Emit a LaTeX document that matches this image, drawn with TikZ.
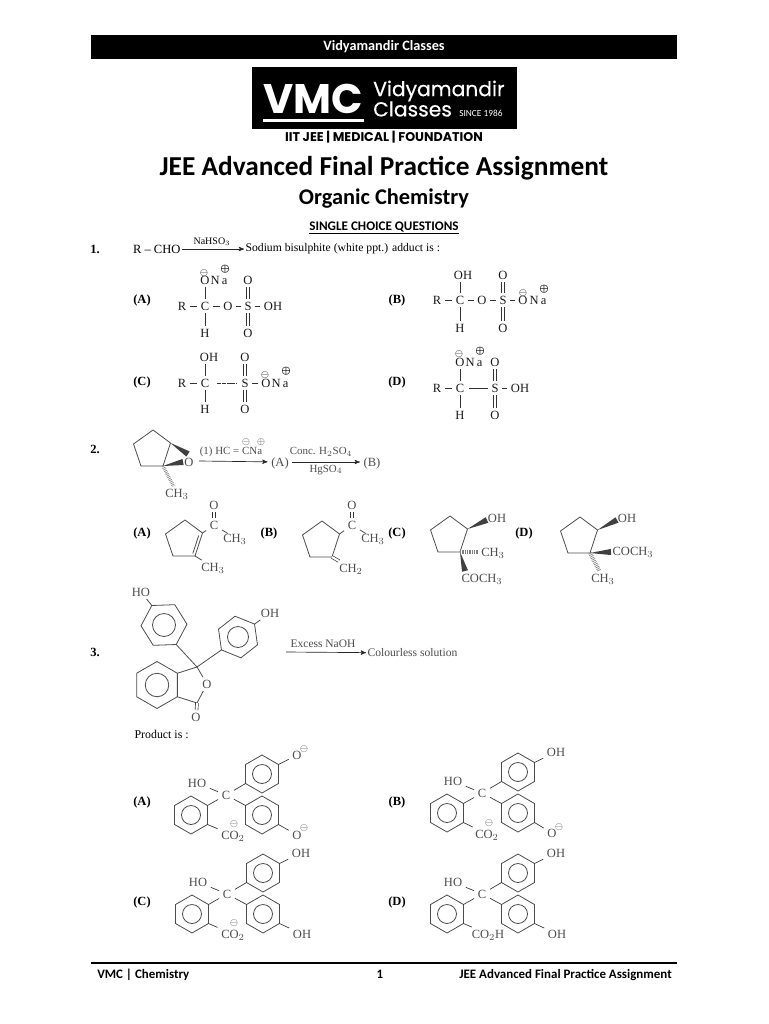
\documentclass[tikz,border=0pt]{standalone}
\usepackage{fontspec}
\setmainfont{Liberation Serif}
\newfontfamily\headfont{Carlito}
\newfontfamily\logofont{Poppins}
\newfontfamily\logomed[FakeBold=.4]{Poppins}
\usetikzlibrary{arrows,calc}

\newcommand{\benzring}[5]{%
  \coordinate (#1c) at (#2,#3);
  \foreach \k in {1,...,6} {
    \pgfmathsetmacro{\ang}{#5+60*(\k-1)}
    \coordinate (#1-\k) at ($(#1c)+(\ang:#4)$);
  }
  \draw[ringline] (#1-1) -- (#1-2) -- (#1-3) -- (#1-4) -- (#1-5) -- (#1-6) -- cycle;
  \draw[ringline] (#1c) circle ({#4*.5});
}
\newcommand{\pentring}[3]{%
  \coordinate (#1-1) at (#2-19.5,#3+14); \coordinate (#1-2) at (#2,#3);
  \coordinate (#1-3) at (#2+17.5,#3+13); \coordinate (#1-4) at (#2+10,#3+36);
  \coordinate (#1-5) at (#2-12,#3+36);
  \draw[ringline] (#1-1) -- (#1-2) -- (#1-3) -- (#1-4) -- (#1-5) -- cycle;
}
\newcommand{\wedgebond}[2]{\fill[black!75] (#1) -- ($(#2)!2.3pt!90:(#1)$) -- ($(#2)!2.3pt!-90:(#1)$) -- cycle;}
\newcommand{\triaryl}[3]{%
  \node[chemg] (#1C) at (#2,#3) {C};
  \node[chemg] (#1HO) at (#2-29,#3-12) {HO};
  \benzring{#1a}{#2-35}{#3+20}{19}{30}
  \benzring{#1b}{#2+36}{#3-21}{19}{30}
  \benzring{#1d}{#2+36}{#3+20}{19}{30}
  \draw[bond] (#1HO) -- (#1C); \draw[bond] (#1a-6) -- (#1C);
  \draw[bond] (#1b-3) -- (#1C); \draw[bond] (#1d-4) -- (#1C);
}
\newcommand{\pluscharge}{{\boldmath$\oplus$}}

\begin{document}
\begin{tikzpicture}[x=.75pt,y=-.75pt,>=stealth',
    chem/.style={font=\fontsize{9.4}{11}\selectfont,text=black!90,inner xsep=2.6pt,inner ysep=1.8pt,text height=6.4pt,text depth=0pt},
    chemg/.style={chem,text=black!70},
    methyl/.style={chemg,inner sep=0pt},
    charge/.style={font=\fontsize{6.6}{7}\selectfont,inner sep=0pt},
    optlabel/.style={font=\fontsize{9.4}{11}\selectfont\bfseries,inner sep=0pt},
    plaintext/.style={font=\fontsize{8.9}{11}\selectfont,inner sep=1pt},
    bond/.style={black!80,line width=.5pt},
    dbond/.style={bond,double,double distance=1.6pt},
    hashbond/.style={black!50,line width=3pt,dash pattern=on .5pt off .8pt},
    ringline/.style={black!70,line width=.6pt},
    rarrow/.style={black!85,line width=.5pt,->},
    headtext/.style={font=\headfont\bfseries,inner sep=0pt}]
  \useasboundingbox (0,0) rectangle (768,1024);

  % header
  \node[fill=black,minimum width=439.5pt,minimum height=18pt,inner sep=0pt] (bar) at (384,47) {};
  \node[headtext,text=white,font=\headfont\bfseries\fontsize{10.7}{12}\selectfont] (barText) at (384,47) {Vidyamandir Classes};
  \node[fill=black,minimum width=198.75pt,minimum height=46.5pt,inner sep=0pt] (logo) at (384,98) {};
  \node[text=white,inner sep=0pt,font=\logofont\bfseries\fontsize{31}{31}\selectfont] (logoVmc) at (313,99) {VMC};
  \fill[white] (263,119) rectangle (364,122);
  \node[text=white,anchor=west,inner sep=0pt,font=\logomed\fontsize{15.2}{16}\selectfont] (logoV) at (373,91) {Vidyamandir};
  \node[text=white,anchor=west,inner sep=0pt,font=\logomed\fontsize{15.2}{16}\selectfont] (logoC) at (373,109) {Classes};
  \node[text=white,anchor=west,inner sep=0pt,font=\headfont\fontsize{7}{8}\selectfont] (logoS) at (459,113) {SINCE 1986};
  \node[inner sep=0pt,anchor=base,font=\logofont\bfseries\fontsize{9.5}{11}\selectfont] (logoT) at (384,141) {IIT JEE | MEDICAL | FOUNDATION};
  \node[headtext,font=\headfont\bfseries\fontsize{20.5}{24}\selectfont] (title) at (384,168) {JEE Advanced Final Practice Assignment};
  \node[headtext,font=\headfont\bfseries\fontsize{16.8}{18}\selectfont] (subtitle) at (384,199) {Organic Chemistry};
  \node[headtext,font=\headfont\bfseries\fontsize{9.85}{11}\selectfont] (section) at (384,228) {\underline{SINGLE CHOICE QUESTIONS}};

  % question 1
  \node[optlabel] (q1) at (95,249) {1.};
  \node[plaintext,anchor=east,font=\fontsize{9.4}{11}\selectfont] (q1r) at (182,249) {R -- CHO};
  \node[plaintext,anchor=west,font=\fontsize{8.75}{11}\selectfont] (q1s) at (244,249) {Sodium bisulphite (white ppt.) adduct is :};
  \node[plaintext,font=\fontsize{7.5}{9}\selectfont] (q1n) at (212,242) {NaHSO$_3$};
  \draw[rarrow] (q1r) -- (q1s);

  \node[optlabel] (q1A) at (142,300) {(A)};
  \node[chem] (aR) at (182,306) {R}; \node[chem] (aC) at (205,306) {C};
  \node[chem] (aO) at (228,306) {O}; \node[chem] (aS) at (248,306) {S};
  \node[chem] (aOH) at (273,306) {OH}; \node[chem] (aO2) at (205,280) {O};
  \node[chem,inner xsep=0pt] (aNa) at (219,280) {N\,a}; \node[chem] (aH) at (205,333) {H};
  \node[chem] (aO3) at (248,280) {O}; \node[chem] (aO4) at (248,333) {O};
  \node[charge] (aM) at (204,273) {$\ominus$}; \node[charge] (aP) at (225,269) {\pluscharge};
  \draw[bond] (aR) -- (aC); \draw[bond] (aC) -- (aO); \draw[bond] (aO) -- (aS); \draw[bond] (aS) -- (aOH);
  \draw[bond] (aC) -- (aO2); \draw[bond] (aC) -- (aH);
  \draw[dbond] (aS) -- (aO3); \draw[dbond] (aS) -- (aO4);

  \node[optlabel] (q1B) at (397,300) {(B)};
  \node[chem] (bR) at (437,300) {R}; \node[chem] (bC) at (460,300) {C};
  \node[chem] (bO) at (482,300) {O}; \node[chem] (bS) at (503,300) {S};
  \node[chem] (bO2) at (523,300) {O}; \node[chem,inner xsep=0pt] (bNa) at (538,300) {N\,a};
  \node[chem] (bOH) at (463,275) {OH}; \node[chem] (bH) at (460,328) {H};
  \node[chem] (bO3) at (503,275) {O}; \node[chem] (bO4) at (503,328) {O};
  \node[charge] (bM) at (523,293) {$\ominus$}; \node[charge] (bP) at (544,289) {\pluscharge};
  \draw[bond] (bR) -- (bC); \draw[bond] (bC) -- (bO); \draw[bond] (bO) -- (bS); \draw[bond] (bS) -- (bO2);
  \draw[bond] (bC) -- (bC|-bOH.south); \draw[bond] (bC) -- (bH);
  \draw[dbond] (bS) -- (bO3); \draw[dbond] (bS) -- (bO4);

  \node[optlabel] (q1C) at (142,382) {(C)};
  \node[chem] (cR) at (182,383) {R}; \node[chem] (cC) at (205,383) {C};
  \node[chem] (cS) at (245,383) {S}; \node[chem] (cO) at (266,383) {O};
  \node[chem,inner xsep=0pt] (cNa) at (280,383) {N\,a}; \node[chem] (cOH) at (209,357) {OH};
  \node[chem] (cH) at (205,409) {H}; \node[chem] (cO3) at (245,357) {O}; \node[chem] (cO4) at (245,409) {O};
  \node[charge] (cM) at (265,375) {$\ominus$}; \node[charge] (cP) at (286,371) {\pluscharge};
  \draw[bond] (cR) -- (cC); \draw[bond,shorten <=3pt,shorten >=1pt,dash pattern=on 3pt off .6pt] (cC) -- (cS);
  \draw[bond] (cS) -- (cO); \draw[bond] (cC) -- (cC|-cOH.south); \draw[bond] (cC) -- (cH);
  \draw[dbond] (cS) -- (cO3); \draw[dbond] (cS) -- (cO4);

  \node[optlabel] (q1D) at (397,382) {(D)};
  \node[chem] (dR) at (437,388) {R}; \node[chem] (dC) at (460,388) {C};
  \node[chem] (dS) at (495,388) {S}; \node[chem] (dOH) at (520,388) {OH};
  \node[chem] (dO) at (460,362) {O}; \node[chem,inner xsep=0pt] (dNa) at (474,362) {N\,a};
  \node[chem] (dH) at (460,415) {H}; \node[chem] (dO3) at (495,362) {O}; \node[chem] (dO4) at (495,415) {O};
  \node[charge] (dM) at (459,354) {$\ominus$}; \node[charge] (dP) at (480,351) {\pluscharge};
  \draw[bond] (dR) -- (dC); \draw[bond,shorten <=1pt] (dC) -- (dS); \draw[bond] (dS) -- (dOH);
  \draw[bond] (dC) -- (dO); \draw[bond] (dC) -- (dH);
  \draw[dbond] (dS) -- (dO3); \draw[dbond] (dS) -- (dO4);

  % question 2
  \node[optlabel] (q2) at (95,449) {2.};
  \pentring{ep}{153}{430}
  \node[chemg] (epO) at (189,462) {O}; \node[chemg] (epMe) at (177,493) {CH$_3$};
  \coordinate (epW1) at (188,454); \coordinate (epW2) at (183,462);
  \wedgebond{ep-3}{epW1} \wedgebond{ep-4}{epW2}
  \draw[hashbond,line width=2.5pt] (ep-4) -- (epMe);
  \coordinate (q2s) at (199,461);
  \node[chemg] (q2A) at (280,462) {(A)}; \node[chemg] (q2B) at (372,462) {(B)};
  \draw[rarrow] (q2s) -- (q2A); \draw[rarrow] (q2A) -- (q2B);
  \node[plaintext,text=black!70,font=\fontsize{8.2}{10}\selectfont] (q2t1) at (231,452) {(1) HC = CNa};
  \node[charge,text=black!70] (q2M) at (246,442) {$\ominus$}; \node[charge,text=black!70] (q2P) at (261,442) {$\oplus$};
  \node[plaintext,text=black!70,font=\fontsize{8.2}{10}\selectfont] (q2t2) at (321,452) {Conc. H$_2$SO$_4$};
  \node[plaintext,text=black!70,font=\fontsize{8.2}{10}\selectfont] (q2t3) at (326,470) {HgSO$_4$};

  \node[optlabel] (q2oA) at (142,533) {(A)};
  \pentring{ra}{185}{520}
  \draw[ringline,shorten >=2pt,shorten <=2pt] ($(ra-3)+(-3,0)$) -- ($(ra-4)+(-3,0)$);
  \node[chemg] (raC) at (214,525) {C}; \node[chemg] (raO) at (214,505) {O};
  \node[methyl] (raMe) at (235,538) {CH$_3$}; \node[chemg] (raMe2) at (213,567) {CH$_3$};
  \draw[ringline] (ra-3) -- (raC); \draw[dbond] (raC) -- (raO); \draw[ringline] (raC) -- (raMe); \draw[ringline] (ra-4) -- (raMe2);

  \node[optlabel] (q2oB) at (269,533) {(B)};
  \pentring{rb}{322}{521}
  \node[chemg] (rbC) at (352,525) {C}; \node[chemg] (rbO) at (352,505) {O};
  \node[methyl] (rbMe) at (373,538) {CH$_3$}; \node[chemg] (rbCh) at (351,568) {CH$_2$};
  \draw[ringline] (rb-3) -- (rbC); \draw[dbond] (rbC) -- (rbO); \draw[ringline] (rbC) -- (rbMe); \draw[dbond] (rb-4) -- (rbCh);

  \node[optlabel] (q2oC) at (397,533) {(C)};
  \pentring{rc}{450}{516}
  \node[chemg] (rcOH) at (497,518) {OH}; \node[chemg] (rcMe) at (493,552) {CH$_3$}; \node[chemg] (rcAc) at (482,578) {COCH$_3$};
  \coordinate (rcW1) at (487,520); \coordinate (rcW2) at (465,571);
  \wedgebond{rc-3}{rcW1} \wedgebond{rc-4}{rcW2}
  \draw[hashbond] (rc-4) -- (rcMe);

  \node[optlabel] (q2oD) at (524,533) {(D)};
  \pentring{rd}{580}{517}
  \node[chemg] (rdOH) at (627,518) {OH}; \node[chemg] (rdAc) at (633,551) {COCH$_3$}; \node[chemg] (rdMe) at (603,578) {CH$_3$};
  \coordinate (rdW1) at (617,520); \coordinate (rdW2) at (611,552);
  \wedgebond{rd-3}{rdW1} \wedgebond{rd-4}{rdW2}
  \draw[hashbond] (rd-4) -- (rdMe);

  % question 3
  \node[optlabel] (q3) at (95,652) {3.};
  \benzring{pa}{164}{625}{23}{-2}
  \benzring{pb}{238}{637}{21}{22}
  \benzring{pd}{157}{685}{23.5}{30}
  \node[chemg] (paHO) at (141,592) {HO}; \node[chemg] (pbOH) at (270,613) {OH};
  \node[chemg] (pO) at (207,684) {O}; \node[chemg] (pO2) at (196,717) {O};
  \coordinate (pC) at (197,667); \coordinate (pK) at (197,703);
  \draw[ringline] (paHO) -- (pa-5); \draw[ringline] (pbOH) -- (pb-6);
  \draw[ringline] (pa-2) -- (pC); \draw[ringline] (pb-3) -- (pC); \draw[ringline] (pd-6) -- (pC);
  \draw[ringline] (pC) -- (pO); \draw[ringline] (pO) -- (pK); \draw[ringline] (pK) -- (pd-1); \draw[dbond] (pK) -- (pO2);
  \coordinate (q3s) at (286,652);
  \node[plaintext,text=black!70,anchor=west,font=\fontsize{8.7}{11}\selectfont] (q3t) at (366,653) {Colourless solution};
  \node[plaintext,text=black!70,font=\fontsize{8.6}{10}\selectfont] (q3n) at (323,644) {Excess NaOH};
  \draw[rarrow] (q3s) -- (q3t);
  \node[plaintext,anchor=west] (q3p) at (133,734) {Product is :};

  \node[optlabel] (q3A) at (142,802) {(A)};
  \triaryl{ta}{226}{795}
  \node[chemg] (taO1) at (297,755) {O}; \node[chemg] (taO2) at (297,835) {O}; \node[chemg] (taCO) at (233,835) {CO$_2$};
  \node[charge,text=black!70] (taM1) at (304,749) {$\ominus$}; \node[charge,text=black!70] (taM2) at (304,828) {$\ominus$}; \node[charge,text=black!70] (taM3) at (234,824) {$\ominus$};
  \draw[bond] (tab-6) -- (taO1); \draw[bond] (tad-1) -- (taO2); \draw[bond] (taa-1) -- (taCO);

  \node[optlabel] (q3B) at (397,802) {(B)};
  \triaryl{tb}{482}{793}
  \node[chemg] (tbO1) at (556,752) {OH}; \node[chemg] (tbO2) at (552,833) {O}; \node[chemg] (tbCO) at (487,834) {CO$_2$};
  \node[charge,text=black!70] (tbM2) at (559,827) {$\ominus$}; \node[charge,text=black!70] (tbM3) at (489,823) {$\ominus$};
  \draw[bond] (tbb-6) -- (tbO1); \draw[bond] (tbd-1) -- (tbO2); \draw[bond] (tba-1) -- (tbCO);

  \node[optlabel] (q3C) at (142,902) {(C)};
  \triaryl{tc}{227}{894}
  \node[chemg] (tcO1) at (301,853) {OH}; \node[chemg] (tcO2) at (302,934) {OH}; \node[chemg] (tcCO) at (233,934) {CO$_2$};
  \node[charge,text=black!70] (tcM3) at (234,923) {$\ominus$};
  \draw[bond] (tcb-6) -- (tcO1); \draw[bond] (tcd-1) -- (tcO2); \draw[bond] (tca-1) -- (tcCO);

  \node[optlabel] (q3D) at (397,902) {(D)};
  \triaryl{td}{482}{894}
  \node[chemg] (tdO1) at (556,853) {OH}; \node[chemg] (tdO2) at (557,934) {OH}; \node[chemg] (tdCO) at (488,934) {CO$_2$H};
  \draw[bond] (tdb-6) -- (tdO1); \draw[bond] (tdd-1) -- (tdO2); \draw[bond] (tda-1) -- (tdCO);

  % footer
  \coordinate (footL) at (91,963); \coordinate (footR) at (677,963);
  \draw[line width=.8pt] (footL) -- (footR);
  \node[headtext,anchor=base west,font=\headfont\bfseries\fontsize{9.7}{11}\selectfont] (footA) at (97,978) {VMC | Chemistry};
  \node[headtext,anchor=base,font=\headfont\bfseries\fontsize{9.7}{11}\selectfont] (footB) at (380,978) {1};
  \node[headtext,anchor=base east,font=\headfont\bfseries\fontsize{9.7}{11}\selectfont] (footC) at (672,978) {JEE Advanced Final Practice Assignment};
\end{tikzpicture}
\end{document}
